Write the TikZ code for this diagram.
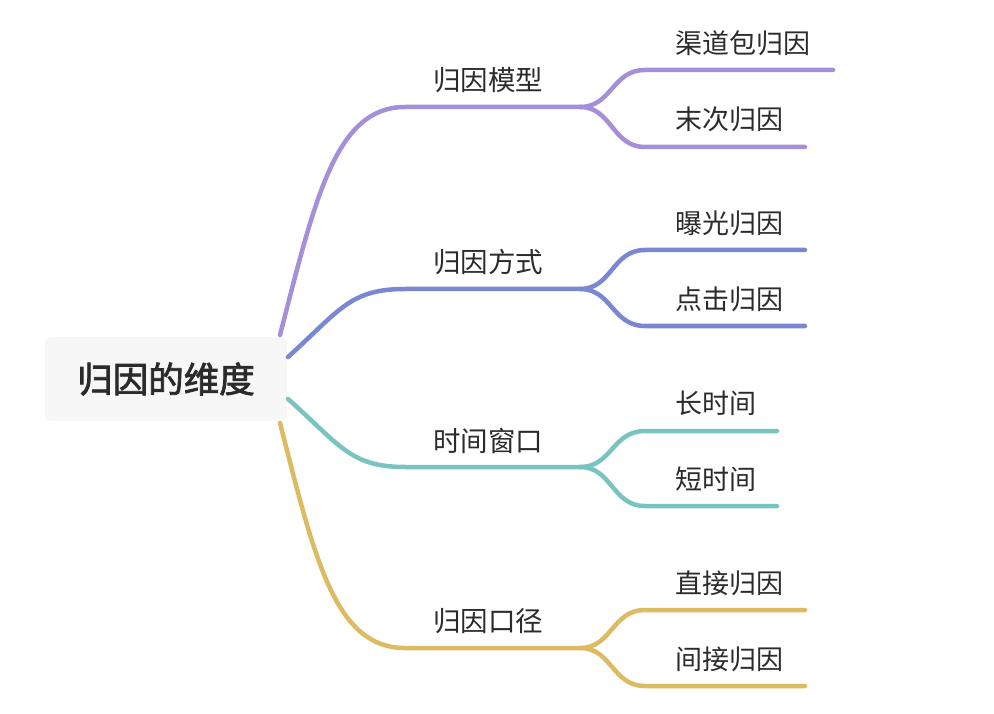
\documentclass[tikz,border=0pt]{standalone}
\usepackage{fontspec}
\setmainfont{Noto Sans CJK SC}
\newfontfamily\rootfont{Noto Sans CJK SC}[FakeBold=2.2]
\definecolor{rootbg}{HTML}{F7F7F7}
\definecolor{txt}{HTML}{2B2B2B}
\definecolor{cpurple}{HTML}{A68FD9}
\definecolor{cblue}{HTML}{7B87D1}
\definecolor{cteal}{HTML}{79C3C0}
\definecolor{cgold}{HTML}{DDBB63}
\begin{document}
\begin{tikzpicture}[x=1pt,y=-1pt]
  \tikzset{lv1/.style={text=txt,font=\fontsize{27.5}{32}\selectfont,inner sep=0pt},
    lv2/.style={text=txt,font=\fontsize{27}{32}\selectfont,inner sep=0pt,anchor=west},
    br/.style={line width=4.5pt,line cap=round}}
  \useasboundingbox (0,0) rectangle (994,714);
  \node[fill=rootbg,rounded corners=6pt,minimum width=242pt,minimum height=84pt,
    text=txt,font=\rootfont\fontsize{35.5}{40}\selectfont] (root) at (166,379) {归因的维度};
  % first level
  \node[lv1] (m1) at (488,80) {归因模型};
  \node[lv1] (m2) at (488,262) {归因方式};
  \node[lv1] (m3) at (488,441) {时间窗口};
  \node[lv1] (m4) at (488,621) {归因口径};
  % second level
  \node[lv2] (l1) at (675,43) {渠道包归因};
  \node[lv2] (l2) at (675,119) {末次归因};
  \node[lv2] (l3) at (675,223) {曝光归因};
  \node[lv2] (l4) at (675,299) {点击归因};
  \node[lv2] (l5) at (675,403) {长时间};
  \node[lv2] (l6) at (675,479) {短时间};
  \node[lv2] (l7) at (675,583) {直接归因};
  \node[lv2] (l8) at (675,659) {间接归因};
  % branch points
  \coordinate (s1) at (280,335); \coordinate (s2) at (288,357);
  \coordinate (s3) at (288,399); \coordinate (s4) at (280,423);
  \coordinate (f1) at (580,107); \coordinate (f2) at (580,289);
  \coordinate (f3) at (580,467); \coordinate (f4) at (580,648);
  \coordinate (e1) at (833,70); \coordinate (e2) at (805,147);
  \coordinate (e3) at (805,250); \coordinate (e4) at (805,326);
  \coordinate (e5) at (777,431); \coordinate (e6) at (777,506);
  \coordinate (e7) at (805,610); \coordinate (e8) at (805,686);
  \draw[br,cpurple] (s1) .. controls (315,200) and (335,107) .. (405,107) -- (f1);
  \draw[br,cblue] (s2) .. controls (340,310) and (350,289) .. (405,289) -- (f2);
  \draw[br,cteal] (s3) .. controls (340,445) and (350,467) .. (405,467) -- (f3);
  \draw[br,cgold] (s4) .. controls (315,560) and (335,648) .. (405,648) -- (f4);
  \draw[br,cpurple] (f1) .. controls (612,107) and (612,70) .. (645,70) -- (e1);
  \draw[br,cpurple] (f1) .. controls (612,107) and (612,147) .. (645,147) -- (e2);
  \draw[br,cblue] (f2) .. controls (612,289) and (612,250) .. (645,250) -- (e3);
  \draw[br,cblue] (f2) .. controls (612,289) and (612,326) .. (645,326) -- (e4);
  \draw[br,cteal] (f3) .. controls (612,467) and (612,431) .. (645,431) -- (e5);
  \draw[br,cteal] (f3) .. controls (612,467) and (612,506) .. (645,506) -- (e6);
  \draw[br,cgold] (f4) .. controls (612,648) and (612,610) .. (645,610) -- (e7);
  \draw[br,cgold] (f4) .. controls (612,648) and (612,686) .. (645,686) -- (e8);
\end{tikzpicture}
\end{document}
